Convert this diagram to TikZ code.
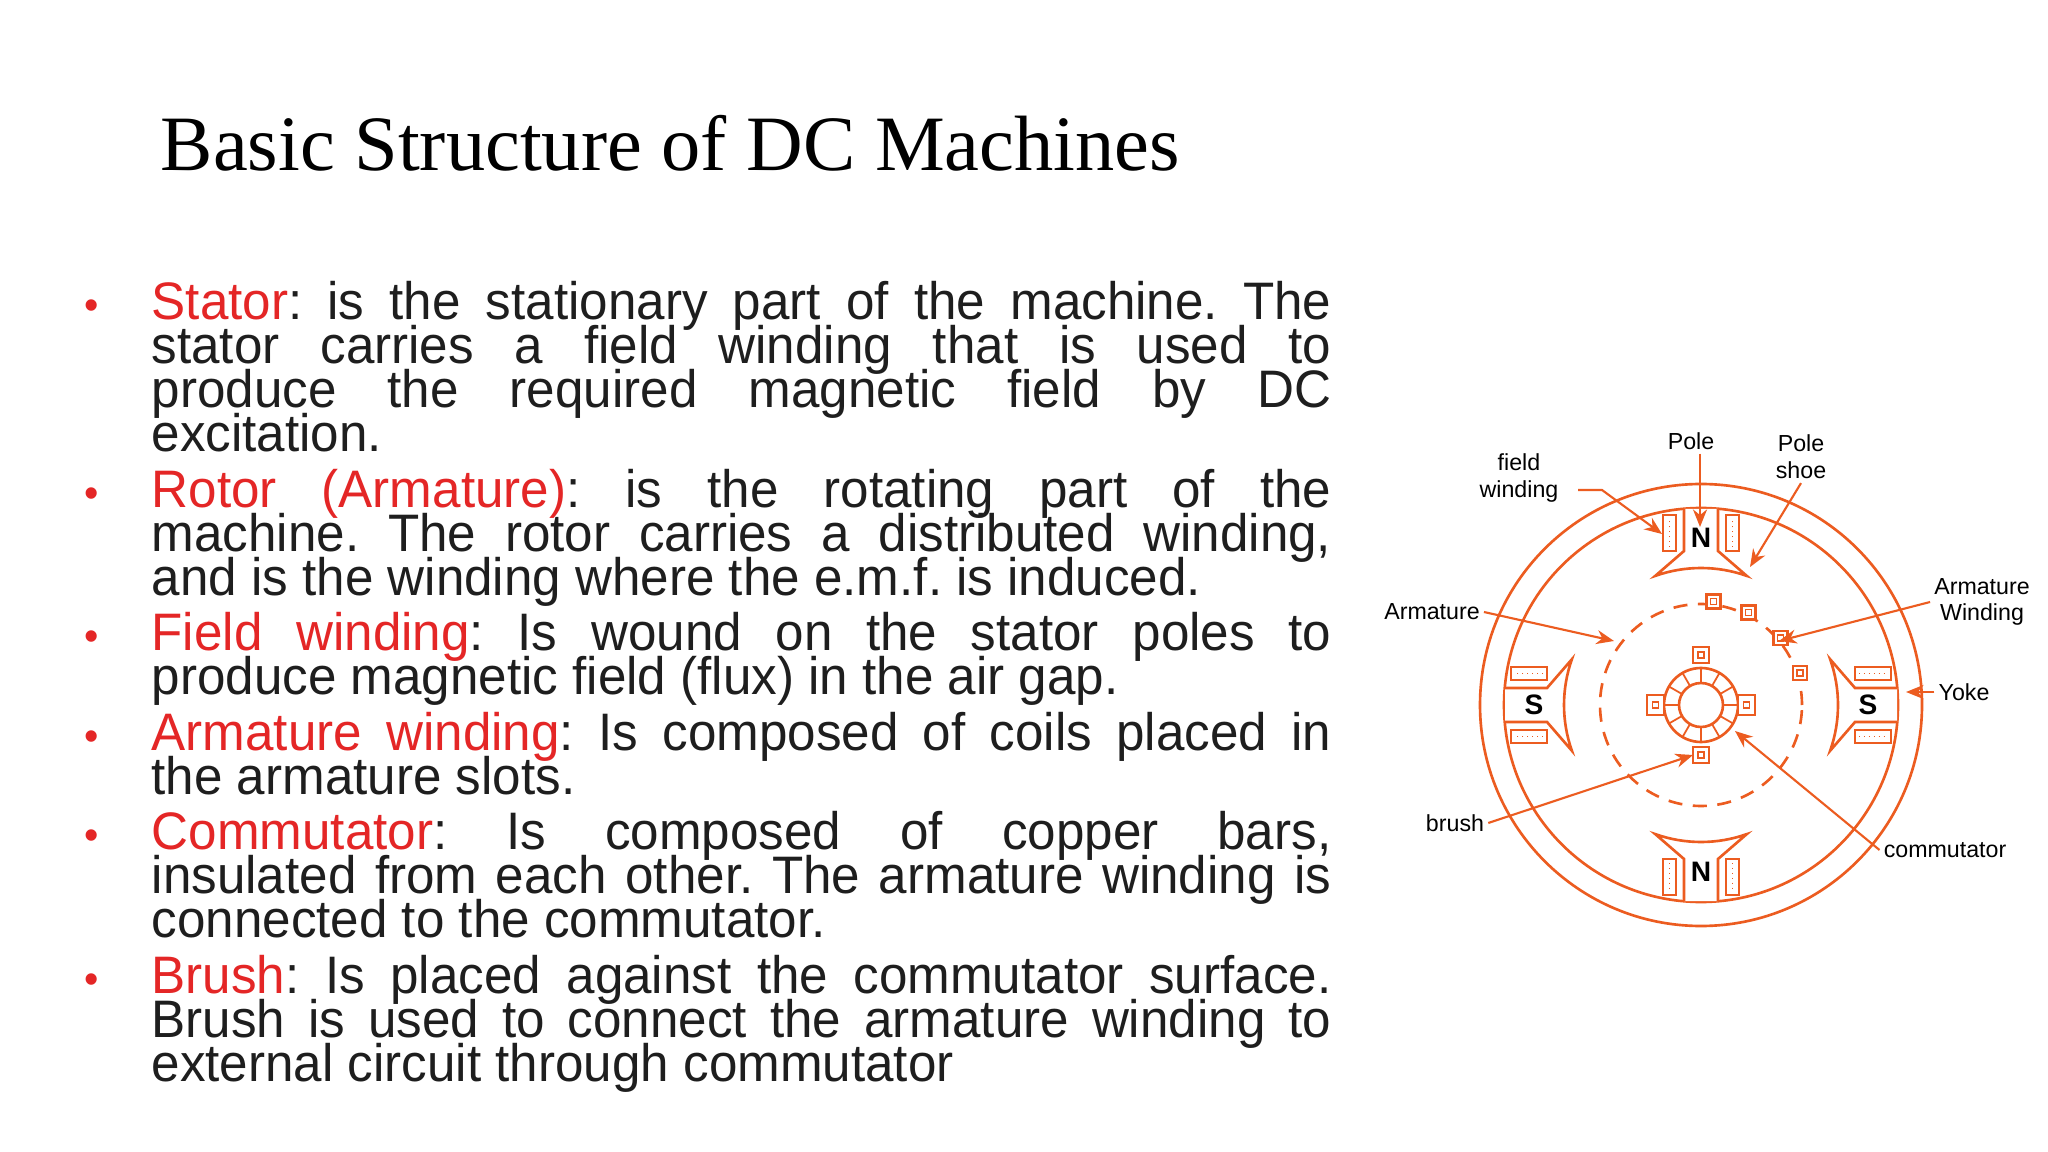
\documentclass[tikz,border=0pt]{standalone}
\usepackage{fontspec}
\setmainfont{Liberation Serif}
\newfontfamily\bodyfont[FakeStretch=0.97]{Liberation Sans}
\newfontfamily\labfont{Liberation Sans}
\usetikzlibrary{arrows.meta}
\definecolor{orng}{RGB}{236,92,32}
\definecolor{termred}{RGB}{228,38,38}
\definecolor{bodytxt}{RGB}{30,30,30}
\tikzset{
  ol/.style={draw=orng, line width=0.75pt},
  arr/.style={draw=orng, line width=0.6pt, -{Stealth[length=5pt,width=4pt]}},
  lab/.style={font=\labfont\fontsize{6.6}{7.6}\selectfont, text=black, inner sep=1pt, align=center},
}
\newcommand{\term}[1]{\textcolor{termred}{#1}}
\newcommand{\bul}{\noindent\llap{\textcolor{termred}{\fontsize{12}{12}\selectfont\textbullet}\hspace{15pt}}}
\begin{document}
\begin{tikzpicture}[x=0.01cm,y=-0.01cm]
\useasboundingbox[fill=white] (0,0) rectangle (2048,1152);
\node[anchor=base west, inner sep=0, font=\fontsize{22.3}{26}\selectfont] (title) at (160,171) {Basic Structure of DC Machines};
\node[anchor=north west, text width=11.79cm, align=justify, inner sep=0, text=bodytxt,
  font=\bodyfont\fontsize{15}{12.5}\selectfont] (body) at (151,281) {%
\setlength\parindent{0pt}\lineskiplimit=-100pt\lineskip=0pt\frenchspacing%
\bul\term{Stator}: is the stationary part of the machine. The\linebreak stator carries a field winding that is used to\linebreak produce the required magnetic field by DC\linebreak excitation.\par\vspace{3.3pt}
\bul\term{Rotor (Armature)}: is the rotating part of the\linebreak machine. The rotor carries a distributed winding,\linebreak and is the winding where the e.m.f. is induced.\par\vspace{3.3pt}
\bul\term{Field winding}: Is wound on the stator poles to\linebreak produce magnetic field (flux) in the air gap.\par\vspace{3.3pt}
\bul\term{Armature winding}: Is composed of coils placed in\linebreak the armature slots.\par\vspace{3.3pt}
\bul\term{Commutator}: Is composed of copper bars,\linebreak insulated from each other. The armature winding is\linebreak connected to the commutator.\par\vspace{3.3pt}
\bul\term{Brush}: Is placed against the commutator surface.\linebreak Brush is used to connect the armature winding to\linebreak external circuit through commutator\par}; 
% diagram
\begin{scope}[shift={(1701,705)}, y=0.01cm]
  \draw[ol] (0,0) circle[radius=221];
  \draw[ol] (0,0) circle[radius=197];
  \draw[ol, dash pattern=on 4pt off 3pt] (0,0) circle[radius=101];
  \foreach \r/\lab in {90/N,270/N,0/S,180/S}{
    \begin{scope}[rotate=\r]
      \draw[ol, fill=white] (196,17) -- (154,17) -- (19.5:137) arc[start angle=19.5,end angle=-19.5,radius=137] -- (154,-17) -- (196,-17);
      \draw[ol] (154,25) rectangle (190,38);
      \draw[ol] (154,-25) rectangle (190,-38);
      \draw[draw=orng, densely dotted, line width=0.4pt] (158,31.5) -- (186,31.5);
      \draw[draw=orng, densely dotted, line width=0.4pt] (158,-31.5) -- (186,-31.5);
      \node[font=\labfont\bfseries\fontsize{8}{9}\selectfont] (p\r) at (167,0) {\lab};
    \end{scope}
  }
  % commutator
  \draw[ol] (0,0) circle[radius=37];
  \draw[ol] (0,0) circle[radius=22];
  \foreach \a in {0,30,...,330} \draw[draw=orng, line width=0.5pt] (\a:22) -- (\a:37);
  \draw[ol, fill=white] (-8,42) rectangle (8,58);
  \draw[ol, fill=white] (-8,-42) rectangle (8,-58);
  \draw[ol, fill=white] (-54,-10) rectangle (-37,10);
  \draw[ol, fill=white] (37,-10) rectangle (54,10);
  \foreach \p in {(0,50),(0,-50),(-45.5,0),(45.5,0)} \draw[draw=orng, line width=0.4pt] \p ++(-3,-3) rectangle ++(6,6);
  % armature coils
  \foreach \a in {83,63,40,18}{
    \draw[ol, fill=white] (\a:104) ++(-7,-7) rectangle ++(14,14);
    \draw[draw=orng, line width=0.4pt] (\a:104) ++(-3,-3) rectangle ++(6,6);
  }
\end{scope}
% labels
\node[lab] (fw) at (1519,478) {field\\winding};
\node[lab] (pole) at (1691,441) {Pole};
\node[lab] (shoe) at (1801,457) {Pole\\shoe};
\node[lab] (arm) at (1432,612) {Armature};
\node[lab] (armw) at (1982,602) {Armature\\Winding};
\node[lab] (yoke) at (1964,692) {Yoke};
\node[lab] (brush) at (1455,823) {brush};
\node[lab] (comm) at (1945,850) {commutator};
\coordinate (fwk) at (1602,490);
\coordinate (fwt) at (1662,534);
\coordinate (polet) at (1700,527);
\coordinate (shoet) at (1750,567);
\coordinate (armt) at (1614,641);
\coordinate (armwt) at (1779,641);
\coordinate (yoket) at (1906,692);
\coordinate (brusht) at (1693,755);
\coordinate (commt) at (1735,731);
\draw[arr] (1578,490) -- (fwk) -- (fwt);
\draw[arr] (pole.south -| polet) -- (polet);
\draw[arr] (shoe.south) -- (shoet);
\draw[arr] (arm.east) -- (armt);
\draw[arr] (armw.west) -- (armwt);
\draw[arr] (yoke.west) -- (yoket);
\draw[arr] (brush.east) -- (brusht);
\draw[arr] (comm.west) -- (commt);
\end{tikzpicture}
\end{document}
